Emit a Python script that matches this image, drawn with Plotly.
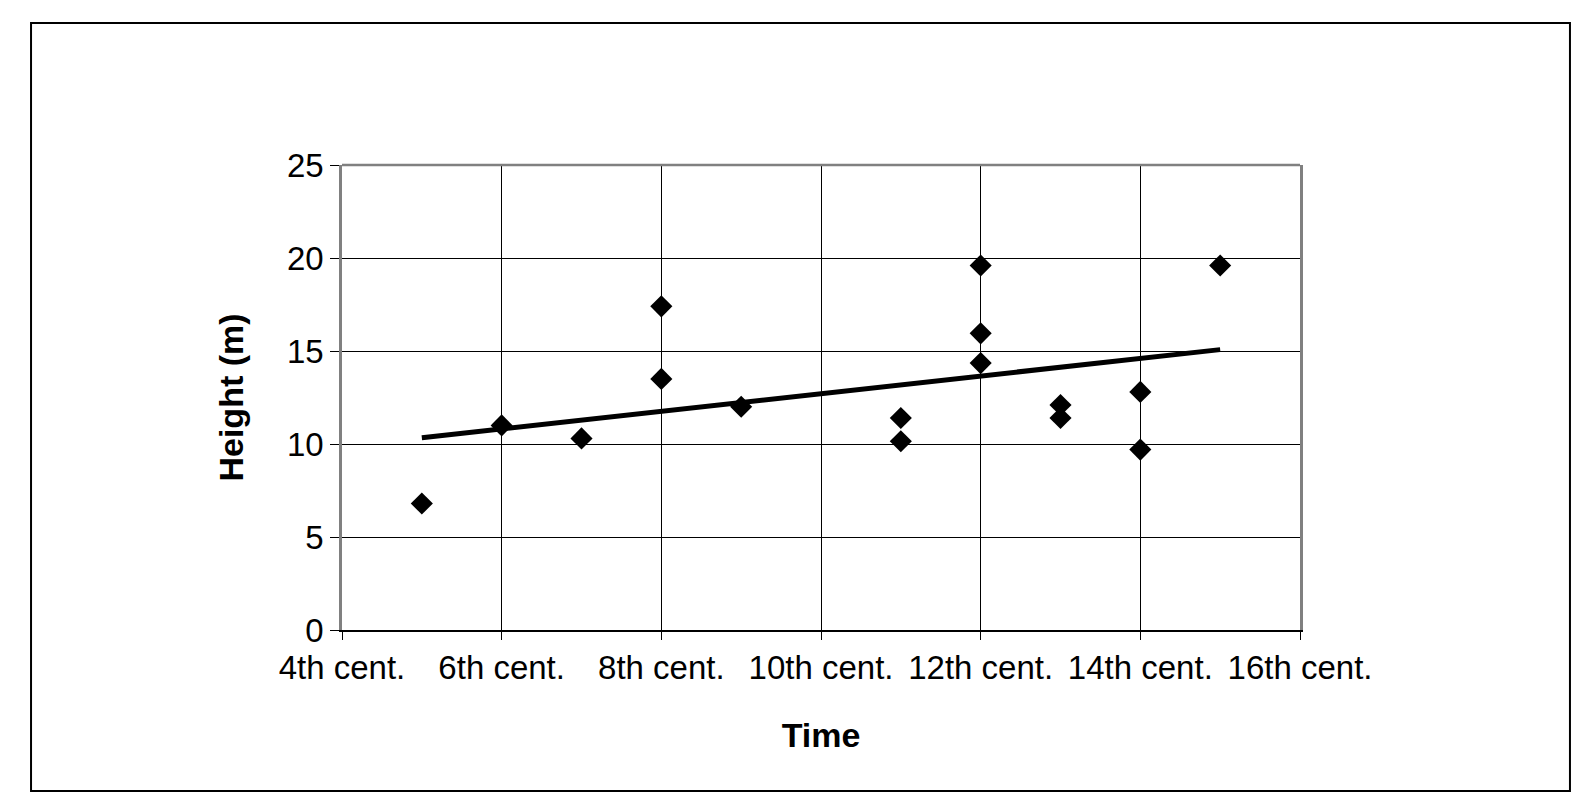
import numpy as np
import plotly.graph_objects as go

# century of each sample and the measured height
century = [5, 6, 7, 8, 8, 9, 11, 11, 12, 12, 12, 13, 13, 14, 14, 15]
height = [6.8, 11.0, 10.3, 17.4, 13.5, 12.0, 11.4, 10.15, 19.6, 15.95, 14.35, 12.1, 11.4, 12.8, 9.7, 19.6]

tick_pos = [4, 6, 8, 10, 12, 14, 16]
tick_text = ['4th cent.', '6th cent.', '8th cent.', '10th cent.', '12th cent.', '14th cent.', '16th cent.']

# linear trend line (least squares), drawn over the span of the data
slope, icpt = np.polyfit(century, height, 1)
trend_x = [min(century), max(century)]
trend_y = [slope * v + icpt for v in trend_x]

font = 'Liberation Sans, Arial, sans-serif'

fig = go.Figure()
fig.add_trace(go.Scatter(x=trend_x, y=trend_y, mode='lines',
                         line=dict(color='black', width=5), hoverinfo='skip'))
fig.add_trace(go.Scatter(x=century, y=height, mode='markers',
                         marker=dict(symbol='diamond', size=17, color='black')))

fig.update_layout(
    width=1572, height=792,
    margin=dict(l=342, r=272, t=165, b=162),
    paper_bgcolor='white', plot_bgcolor='white',
    showlegend=False,
    font=dict(family=font, size=33, color='black'),
    xaxis=dict(range=[4, 16], tickvals=tick_pos, ticktext=tick_text,
               showgrid=True, gridcolor='black', gridwidth=1,
               showline=True, linecolor='black', linewidth=1.5,
               ticks='outside', ticklen=8, tickcolor='black', tickwidth=1,
               zeroline=False,
               title=dict(text='<b>Time</b>', font=dict(size=34), standoff=38)),
    yaxis=dict(range=[0, 25], dtick=5,
               showgrid=True, gridcolor='black', gridwidth=1,
               showline=True, linecolor='#808080', linewidth=2.5, mirror=True,
               ticks='outside', ticklen=9, tickcolor='black', tickwidth=1,
               zeroline=False,
               title=dict(text='<b>Height (m)</b>', font=dict(size=34), standoff=34)),
    shapes=[
        # grey top edge of the plot area
        dict(type='line', xref='paper', yref='paper', x0=0, x1=1, y0=1, y1=1,
             line=dict(color='#808080', width=2.5), layer='above'),
        # outer frame of the chart
        dict(type='rect', xref='paper', yref='paper',
             x0=-0.3246, x1=1.2818, y0=-0.3462, y1=1.3054,
             line=dict(color='black', width=2)),
    ],
)

fig.write_html('out.html', config={'displayModeBar': False},
               post_script="document.body.style.margin='0';")
